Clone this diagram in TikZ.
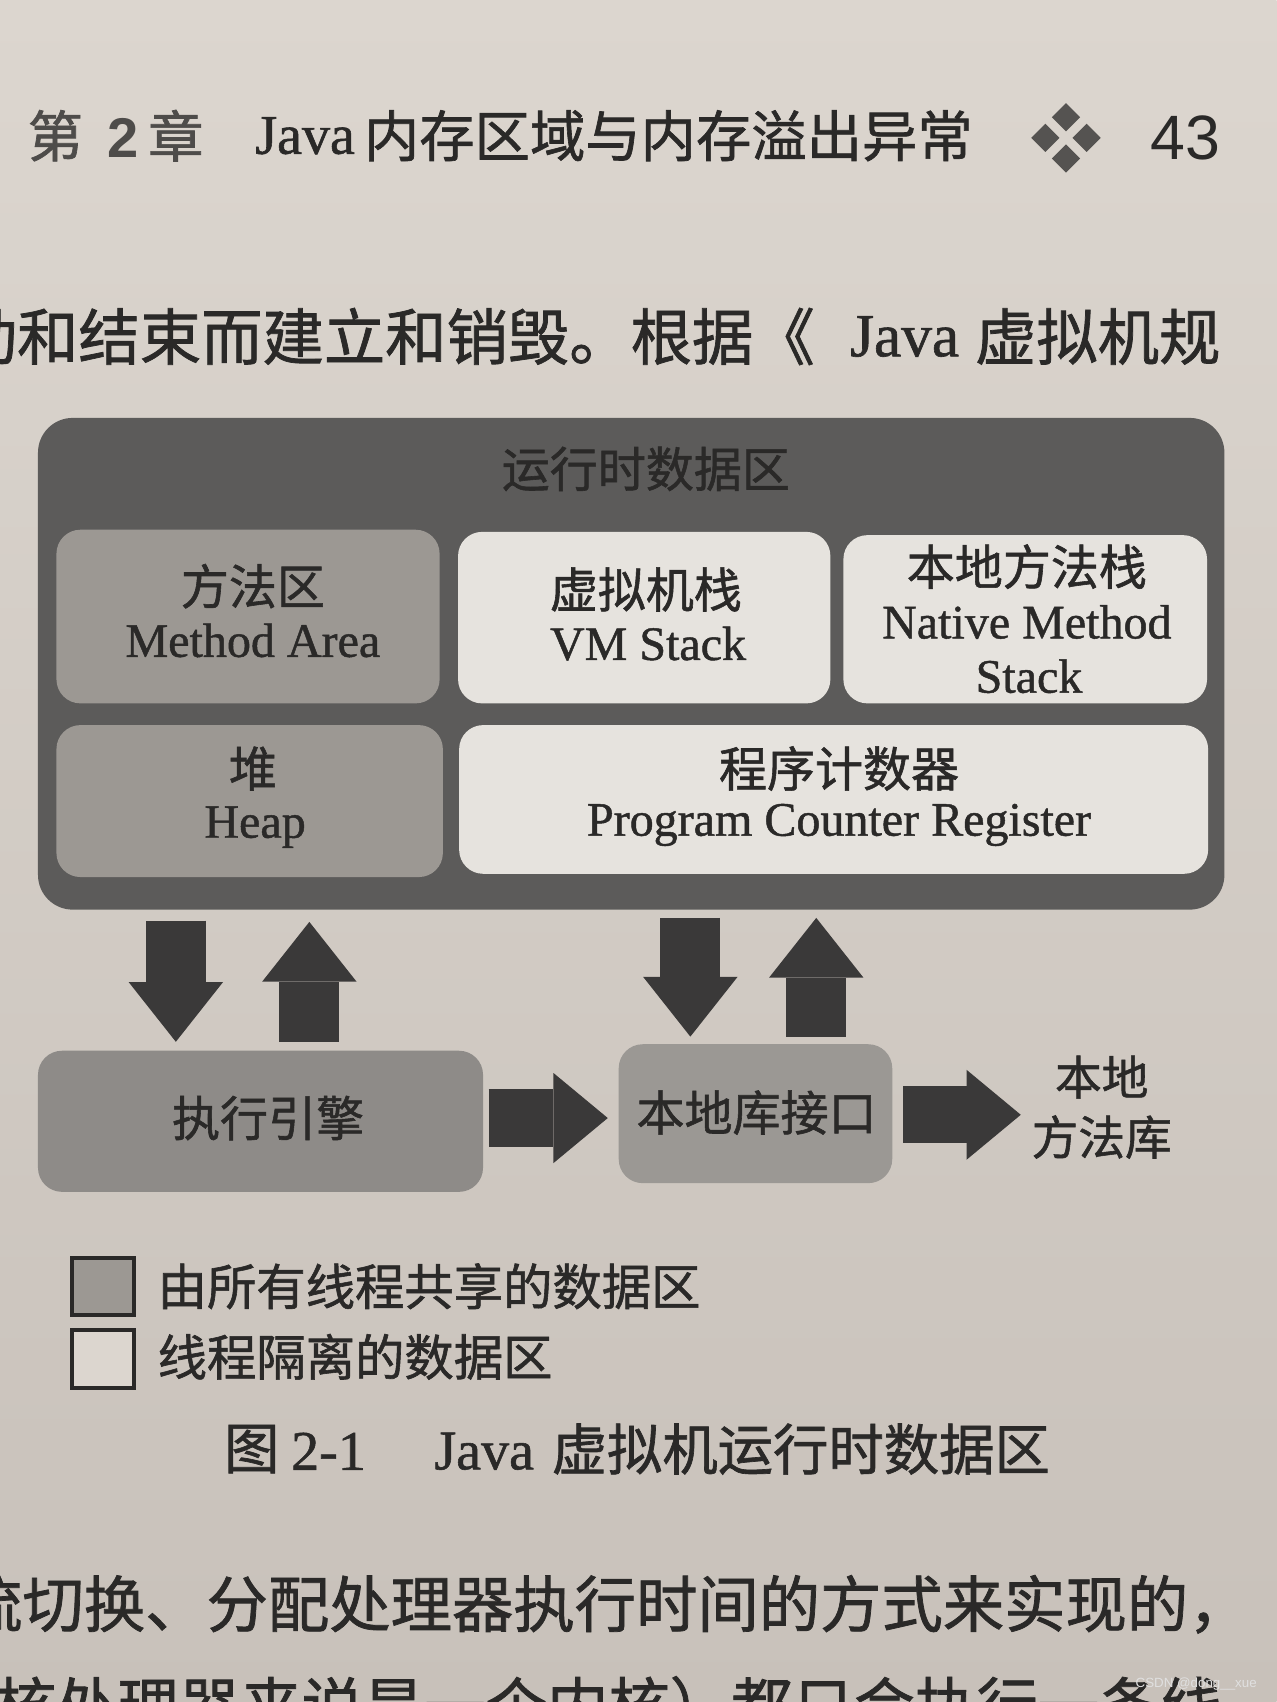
\documentclass[tikz,border=0pt]{standalone}
\usepackage{fontspec}
\setmainfont{Liberation Serif}
\setsansfont{Liberation Sans}
\newfontfamily\cjk{Noto Sans CJK SC}[FakeBold=1.2]
\newfontfamily\enb{Liberation Serif}[FakeBold=1]
\usetikzlibrary{arrows.meta,fit}
\definecolor{pagetop}{HTML}{DCD6CF}
\definecolor{pagebot}{HTML}{C8C1BA}
\definecolor{ink}{HTML}{2A2928}
\definecolor{hdgray}{HTML}{4E4C4A}
\definecolor{dmd}{HTML}{555351}
\definecolor{outerc}{HTML}{5C5B5A}
\definecolor{sharedc}{HTML}{9C9893}
\definecolor{privc}{HTML}{E6E3DE}
\definecolor{execc}{HTML}{8E8B88}
\definecolor{nifc}{HTML}{9B9894}
\definecolor{arrowc}{HTML}{3A3939}
\begin{document}
\begin{tikzpicture}[x=0.8138pt,y=-0.8138pt,
  every node/.style={inner sep=0pt,text=ink},
  areabox/.style={rounded corners=18pt,inner sep=0pt},
  zh/.style={font=\cjk\fontsize{36pt}{40pt}\selectfont},
  en/.style={font=\enb\fontsize{36pt}{40pt}\selectfont},
  body/.style={font=\cjk\fontsize{46pt}{50pt}\selectfont,anchor=west},
  bodyen/.style={font=\enb\fontsize{46pt}{50pt}\selectfont,anchor=west},
  head/.style={font=\cjk\fontsize{41.5pt}{46pt}\selectfont},
  vblk/.style={draw=arrowc,line width=44.8pt,-{Triangle[width=70.8pt,length=44.8pt,line width=0pt 0 0]}},
  hblk/.style={draw=arrowc,line width=43pt,-{Triangle[width=67.5pt,length=40.7pt,line width=0pt 0 0]}},
  legbox/.style={draw=ink,line width=3pt,minimum width=46pt,minimum height=43pt},
]
\useasboundingbox (0,0) rectangle (1176,1568);
\clip (0,0) rectangle (1176,1568);
\shade[top color=pagetop,bottom color=pagebot] (0,0) rectangle (1176,1568);

% header
\node[head,text=hdgray] (hd1) at (51,125) {第};
\node[font=\sffamily\bfseries\fontsize{42pt}{48pt}\selectfont,text=hdgray] (hd2) at (113,127) {2};
\node[head,text=hdgray] (hd3) at (162,125) {章};
\node[font=\enb\fontsize{42pt}{46pt}\selectfont,anchor=west] (hd4) at (235,125) {Java};
\node[head,anchor=west] (hd5) at (335,125) {内存区域与内存溢出异常};
\fill[dmd] (982,95) -- (995,108) -- (982,121) -- (969,108) -- cycle;
\fill[dmd] (982,133) -- (995,146) -- (982,159) -- (969,146) -- cycle;
\fill[dmd] (963,114) -- (976,127) -- (963,140) -- (950,127) -- cycle;
\fill[dmd] (1001,114) -- (1014,127) -- (1001,140) -- (988,127) -- cycle;
\node[font=\sffamily\fontsize{47pt}{50pt}\selectfont] (pg) at (1092,127) {43};

% body line
\node[body] (b1a) at (-41,310) {动和结束而建立和销毁。根据《};
\node[bodyen] (b1b) at (783,310) {Java};
\node[body] (b1c) at (898,310) {虚拟机规};

% runtime data area
\node[fit={(35,385) (1128,838)},fill=outerc,rounded corners=26pt,inner sep=0pt] (rt) {};
\node[zh] (rtt) at (595,432) {运行时数据区};

\node[areabox,fill=sharedc,fit={(52,488) (405,648)}] (ma) {};
\node[areabox,fill=privc,fit={(422,490) (765,648)}] (vm) {};
\node[areabox,fill=privc,fit={(777,493) (1112,648)}] (nm) {};
\node[areabox,fill=sharedc,fit={(52,668) (408,808)}] (hp) {};
\node[areabox,fill=privc,fit={(423,668) (1113,805)}] (pc) {};

\node[zh] (ma1) at (233,540) {方法区};
\node[en] (ma2) at (233,590) {Method Area};
\node[zh] (vm1) at (595,543) {虚拟机栈};
\node[en] (vm2) at (597,593) {VM Stack};
\node[zh] (nm1) at (946,522) {本地方法栈};
\node[en] (nm2) at (946,573) {Native Method};
\node[en] (nm3) at (948,623) {Stack};
\node[zh] (hp1) at (233,708) {堆};
\node[en] (hp2) at (235,762) {Heap};
\node[zh] (pc1) at (773,708) {程序计数器};
\node[en] (pc2) at (773,760) {Program Counter Register};

% lower row
\node[areabox,fill=execc,fit={(35,968) (445,1098)}] (ex) {};
\node[zh] (ext) at (247,1030) {执行引擎};
\node[areabox,fill=nifc,fit={(570,962) (822,1090)}] (nif) {};
\node[zh] (nift) at (697,1025) {本地库接口};
\node[zh,align=center,font=\cjk\fontsize{35pt}{45pt}\selectfont] (lib) at (1015,1020) {本地\\方法库};

% connectors
\coordinate (xa) at (162,0);
\coordinate (xb) at (285,0);
\coordinate (xc) at (636,0);
\coordinate (xd) at (752,0);
\coordinate (ya) at (0,1030);
\coordinate (yb) at (0,1027);
\draw[vblk,shorten <=8pt,shorten >=6.5pt] (xa |- rt.south) -- (xa |- ex.north);
\draw[vblk,shorten <=6.5pt,shorten >=9pt] (xb |- ex.north) -- (xb |- rt.south);
\draw[vblk,shorten <=6pt,shorten >=5.5pt] (xc |- rt.south) -- (xc |- nif.north);
\draw[vblk,shorten <=5.5pt,shorten >=6pt] (xd |- nif.north) -- (xd |- rt.south);
\draw[hblk,shorten <=4pt,shorten >=8pt] (ex.east |- ya) -- (nif.west |- ya);
\draw[hblk,shorten <=8pt,shorten >=8pt] (nif.east |- yb) -- (lib.west |- yb);

% legend
\node[legbox,fill=sharedc] (lg1) at (95,1185) {};
\node[font=\cjk\fontsize{37pt}{40pt}\selectfont,anchor=west] (lg1t) at (145,1185) {由所有线程共享的数据区};
\node[legbox,fill=pagetop] (lg2) at (95,1252) {};
\node[font=\cjk\fontsize{37pt}{40pt}\selectfont,anchor=west] (lg2t) at (145,1250) {线程隔离的数据区};

% caption
\node[head] (cp1) at (232,1335) {图};
\node[font=\enb\fontsize{42pt}{46pt}\selectfont,anchor=west] (cp2) at (268,1337) {2-1};
\node[font=\enb\fontsize{42pt}{46pt}\selectfont,anchor=west] (cp3) at (400,1337) {Java};
\node[head,anchor=west] (cp4) at (508,1335) {虚拟机运行时数据区};

% lower body text
\node[body] (b2) at (-36,1478) {流切换、分配处理器执行时间的方式来实现的，};
\node[body] (b3) at (-5,1571) {核处理器来说是一个内核）都只会执行一条线};
\node[font=\sffamily\fontsize{10pt}{12pt}\selectfont,text=white!88!black] (wm) at (1102,1551) {CSDN @dong\_\_xue};
\end{tikzpicture}
\end{document}
